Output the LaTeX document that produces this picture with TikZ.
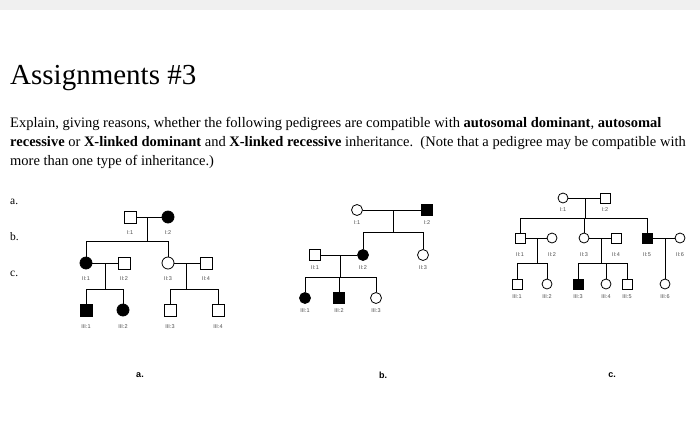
\documentclass[tikz,border=0pt]{standalone}
\usepackage{fontspec}
\setmainfont{Liberation Serif}
\newfontfamily\lab{Liberation Sans}
\begin{document}
\begin{tikzpicture}[x=1pt,y=-1pt,
 sq/.style={draw,thick,rectangle,minimum size=#1,inner sep=0pt},
 ci/.style={draw,thick,circle,minimum size=#1,inner sep=0pt},
 af/.style={fill=black},
 ln/.style={line width=0.6pt},
 lb/.style={font=\lab\fontsize{5.5}{5.5}\selectfont,inner sep=0pt,text=black!70},
 pcap/.style={font=\lab\bfseries\fontsize{9}{9}\selectfont},
 body/.style={anchor=base west,inner sep=0pt,font=\fontsize{14.5}{16}\selectfont}]
\useasboundingbox (0,0) rectangle (700,424);
\fill[gray!12] (0,0) rectangle (700,10);
\node[anchor=base west,inner sep=0pt,font=\fontsize{29}{32}\selectfont] (title) at (10,84) {Assignments \#3};
\node[body] (t1) at (10,127) {Explain, giving reasons, whether the following pedigrees are compatible with \textbf{autosomal dominant}, \textbf{autosomal}};
\node[body] (t2) at (10,146) {\textbf{recessive} or \textbf{X-linked dominant} and \textbf{X-linked recessive} inheritance.\ \ (Note that a pedigree may be compatible with};
\node[body] (t3) at (10,165) {more than one type of inheritance.)};
\node[body,font=\fontsize{11.5}{12}\selectfont] (la) at (10,204) {a.};
\node[body,font=\fontsize{11.5}{12}\selectfont] (lbb) at (10,240) {b.};
\node[body,font=\fontsize{11.5}{12}\selectfont] (lc) at (10,276) {c.};
% ---------- a
\node[sq=12] (aI1) at (130,217) {}; \node[ci=12,af] (aI2) at (168,217) {};
\node[ci=12,af] (aII1) at (86,263) {}; \node[sq=12] (aII2) at (124,263) {};
\node[ci=12] (aII3) at (168,263) {}; \node[sq=12] (aII4) at (206,263) {};
\node[sq=12,af] (aIII1) at (86,310) {}; \node[ci=12,af] (aIII2) at (123,310) {};
\node[sq=12] (aIII3) at (170,310) {}; \node[sq=12] (aIII4) at (218,310) {};
\coordinate (am1) at (147,217); \coordinate (as1) at (147,241);
\coordinate (am2) at (105,263); \coordinate (as2) at (105,289);
\coordinate (am3) at (186,263); \coordinate (as3) at (186,289);
\draw[ln] (aI1) -- (aI2); \draw[ln] (am1) -- (as1);
\draw[ln] (aII1.north |- as1) -- (aII3.north |- as1); \draw[ln] (aII1.north |- as1) -- (aII1); \draw[ln] (aII3.north |- as1) -- (aII3);
\draw[ln] (aII1) -- (aII2); \draw[ln] (am2) -- (as2);
\draw[ln] (aIII1 |- as2) -- (aIII2 |- as2); \draw[ln] (aIII1 |- as2) -- (aIII1); \draw[ln] (aIII2 |- as2) -- (aIII2);
\draw[ln] (aII3) -- (aII4); \draw[ln] (am3) -- (as3);
\draw[ln] (aIII3 |- as3) -- (aIII4 |- as3); \draw[ln] (aIII3 |- as3) -- (aIII3); \draw[ln] (aIII4 |- as3) -- (aIII4);
\node[lb] (laI1) at (130,233) {I:1}; \node[lb] (laI2) at (168,233) {I:2};
\node[lb] (laII1) at (86,279) {II:1}; \node[lb] (laII2) at (124,279) {II:2};
\node[lb] (laII3) at (168,279) {II:3}; \node[lb] (laII4) at (206,279) {II:4};
\node[lb] (laIII1) at (86,327) {III:1}; \node[lb] (laIII2) at (123,327) {III:2};
\node[lb] (laIII3) at (170,327) {III:3}; \node[lb] (laIII4) at (218,327) {III:4};
% ---------- b
\node[ci=11] (bI1) at (357,210) {}; \node[sq=11,af] (bI2) at (427,210) {};
\node[sq=11] (bII1) at (315,255) {}; \node[ci=11,af] (bII2) at (363,255) {}; \node[ci=11] (bII3) at (423,255) {};
\node[ci=11,af] (bIII1) at (305,298) {}; \node[sq=11,af] (bIII2) at (339,298) {}; \node[ci=11] (bIII3) at (376,298) {};
\coordinate (bm1) at (393,210); \coordinate (bs1) at (393,232);
\coordinate (bm2) at (340,255); \coordinate (bs2) at (340,277);
\draw[ln] (bI1) -- (bI2); \draw[ln] (bm1) -- (bs1);
\draw[ln] (bII2 |- bs1) -- (bII3 |- bs1); \draw[ln] (bII2 |- bs1) -- (bII2); \draw[ln] (bII3 |- bs1) -- (bII3);
\draw[ln] (bII1) -- (bII2); \draw[ln] (bm2) -- (bs2);
\draw[ln] (bIII1 |- bs2) -- (bIII3 |- bs2); \draw[ln] (bIII1 |- bs2) -- (bIII1); \draw[ln] (bIII2 |- bs2) -- (bIII2); \draw[ln] (bIII3 |- bs2) -- (bIII3);
\node[lb] (lbI1) at (357,223) {I:1}; \node[lb] (lbI2) at (427,223) {I:2};
\node[lb] (lbII1) at (315,268) {II:1}; \node[lb] (lbII2) at (363,268) {II:2}; \node[lb] (lbII3) at (423,268) {II:3};
\node[lb] (lbIII1) at (305,311) {III:1}; \node[lb] (lbIII2) at (339,311) {III:2}; \node[lb] (lbIII3) at (376,311) {III:3};
% ---------- c
\node[ci=10] (cI1) at (563,198) {}; \node[sq=10] (cI2) at (605,198) {};
\node[sq=10] (cII1) at (520,238) {}; \node[ci=10] (cII2) at (552,238) {}; \node[ci=10] (cII3) at (584,238) {};
\node[sq=10] (cII4) at (616,238) {}; \node[sq=10,af] (cII5) at (647,238) {}; \node[ci=10] (cII6) at (680,238) {};
\node[sq=10] (cIII1) at (517,284) {}; \node[ci=10] (cIII2) at (547,284) {}; \node[sq=10,af] (cIII3) at (578,284) {};
\node[ci=10] (cIII4) at (606,284) {}; \node[sq=10] (cIII5) at (627,284) {}; \node[ci=10] (cIII6) at (665,284) {};
\coordinate (cm1) at (585,198); \coordinate (cs1) at (585,218);
\coordinate (cm2) at (537,238); \coordinate (cs2) at (537,263);
\coordinate (cm3) at (601,238); \coordinate (cs3) at (601,263);
\coordinate (cm4) at (665,238);
\draw[ln] (cI1) -- (cI2); \draw[ln] (cm1) -- (cs1);
\draw[ln] (cII1 |- cs1) -- (cII5 |- cs1); \draw[ln] (cII1 |- cs1) -- (cII1); \draw[ln] (cII3 |- cs1) -- (cII3); \draw[ln] (cII5 |- cs1) -- (cII5);
\draw[ln] (cII1) -- (cII2); \draw[ln] (cm2) -- (cs2);
\draw[ln] (cIII1 |- cs2) -- (cIII2 |- cs2); \draw[ln] (cIII1 |- cs2) -- (cIII1); \draw[ln] (cIII2 |- cs2) -- (cIII2);
\draw[ln] (cII3) -- (cII4); \draw[ln] (cm3) -- (cs3);
\draw[ln] (cIII3 |- cs3) -- (cIII5 |- cs3); \draw[ln] (cIII3 |- cs3) -- (cIII3); \draw[ln] (cIII4 |- cs3) -- (cIII4); \draw[ln] (cIII5 |- cs3) -- (cIII5);
\draw[ln] (cII5) -- (cII6); \draw[ln] (cm4) -- (cIII6);
\node[lb] (lcI1) at (563,210) {I:1}; \node[lb] (lcI2) at (605,210) {I:2};
\node[lb] (lcII1) at (520,255) {II:1}; \node[lb] (lcII2) at (552,255) {II:2}; \node[lb] (lcII3) at (584,255) {II:3};
\node[lb] (lcII4) at (616,255) {II:4}; \node[lb] (lcII5) at (647,255) {II:5}; \node[lb] (lcII6) at (680,255) {II:6};
\node[lb] (lcIII1) at (517,297) {III:1}; \node[lb] (lcIII2) at (547,297) {III:2}; \node[lb] (lcIII3) at (578,297) {III:3};
\node[lb] (lcIII4) at (606,297) {III:4}; \node[lb] (lcIII5) at (627,297) {III:5}; \node[lb] (lcIII6) at (665,297) {III:6};
% captions
\node[pcap] (capa) at (140,375) {a.};
\node[pcap] (capb) at (383,375) {b.};
\node[pcap] (capc) at (612,375) {c.};
\end{tikzpicture}
\end{document}
